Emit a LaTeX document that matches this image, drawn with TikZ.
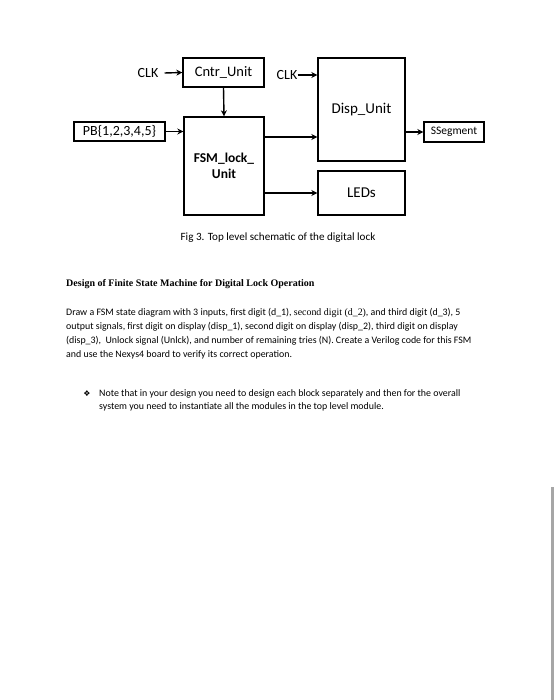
\documentclass[tikz,border=0pt]{standalone}
\usepackage{fontspec}
\setmainfont{Carlito}
\newfontfamily\headfont{Liberation Serif}
\newfontfamily\symfont{DejaVu Sans}
\usepackage{tikz}
\usetikzlibrary{arrows.meta,positioning}

\tikzset{
  blk/.style={draw,line width=1.4pt,rectangle,inner sep=0pt},
  sig/.style={inner sep=0pt,font=\fontsize{14}{16}\selectfont},
  wire/.style={->,line width=1.4pt},
}

\begin{document}
\begin{tikzpicture}[x=1pt,y=-1pt,>={Stealth[length=6pt,width=6pt]}]
\useasboundingbox (0,0) rectangle (559,700);
% blocks
\node[blk,minimum width=81,minimum height=29,font=\fontsize{14.5}{16}\selectfont](cntr) at (223.5,72.5){Cntr\_Unit};
\node[blk,minimum width=80,minimum height=98,align=center,font=\bfseries\fontsize{13.5}{16}\selectfont](fsm) at (224,166){FSM\_lock\_\\Unit};
\node[blk,minimum width=91,minimum height=19,font=\fontsize{14}{16}\selectfont](pb) at (119.5,131.5){PB\{1,2,3,4,5\}};
\node[blk,minimum width=87,minimum height=103,font=\fontsize{15}{16}\selectfont](disp) at (361.5,109.5){Disp\_Unit};
\node[blk,minimum width=87,minimum height=44,font=\fontsize{15}{16}\selectfont](leds) at (361.5,193){LEDs};
\node[blk,minimum width=60,minimum height=20,font=\fontsize{11.5}{12}\selectfont](sseg) at (454,132){SSegment};
\node[sig](clka) at (148,73){CLK};
\node[sig](clkb) at (287,75){CLK};
% connections
\draw[wire](clka.east)++(6,0)--(cntr.west);
\draw[wire](cntr.south)--(fsm.north);
\draw[wire](pb.east)--(pb.east -| fsm.west);
\draw[wire](clkb.east)--(clkb.east -| disp.west);
\draw[wire]([yshift=29pt]fsm.east)--([yshift=29pt]fsm.east -| disp.west);
\draw[wire](fsm.east |- leds.west)--(leds.west);
\draw[wire](disp.east |- sseg.west)--(sseg.west);
\node[font=\fontsize{11.1}{13}\selectfont](cap) at (278,238){Fig 3. Top level schematic of the digital lock};
% text below
\node[anchor=west,inner sep=0pt,font=\headfont\bfseries\fontsize{10}{12}\selectfont](head) at (66,284){Design of Finite State Machine for Digital Lock Operation};
\node[anchor=north west,inner sep=0pt,align=left,font=\fontsize{9.9}{13.9}\selectfont](para) at (66,308){%
Draw a FSM state diagram with 3 inputs, first digit (d\_1), {\headfont second digit (d\_2)}, and third digit (d\_3), 5\\
output signals, first digit on display (disp\_1), second digit on display (disp\_2), third digit on display\\
(disp\_3),~ Unlock signal (Unlck), and number of remaining tries (N). Create a Verilog code for this FSM\\
and use the Nexys4 board to verify its correct operation.};
\node[inner sep=0pt,font=\symfont\fontsize{8}{9}\selectfont](bul) at (87,394){❖};
\node[anchor=north west,inner sep=0pt,align=left,font=\fontsize{9.9}{13.9}\selectfont](note) at (99,389){%
Note that in your design you need to design each block separately and then for the overall\\
system you need to instantiate all the modules in the top level module.};
% scroll bar
\draw[gray!70,line width=3pt](552,487)--(552,700);
\end{tikzpicture}
\end{document}
